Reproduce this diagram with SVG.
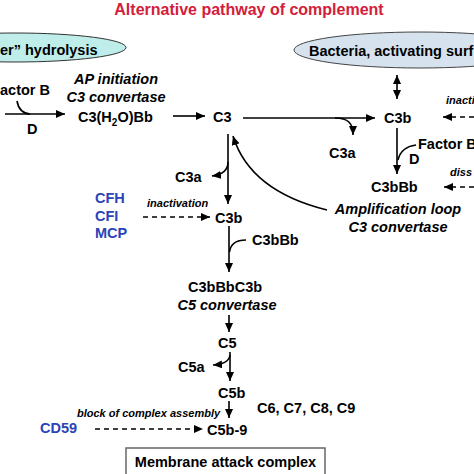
<svg xmlns="http://www.w3.org/2000/svg" width="474" height="474" viewBox="0 0 474 474">
<defs>
<marker id="ah" markerUnits="userSpaceOnUse" markerWidth="9" markerHeight="8" refX="9" refY="4" orient="auto">
<path d="M0,0 L9,4 L0,8 z" fill="#000"/>
</marker>
<marker id="ahs" markerUnits="userSpaceOnUse" markerWidth="9" markerHeight="8" refX="0" refY="4" orient="auto">
<path d="M9,0 L0,4 L9,8 z" fill="#000"/>
</marker>
<style>
text{font-family:"Liberation Sans",Arial,sans-serif;font-weight:bold;font-size:14.5px;fill:#000}
.it{font-style:italic}
.sm{font-size:11px;font-style:italic}
.blue{fill:#2b43b8}
.title{fill:#d3203a;font-size:16px}
.ln{fill:none;stroke:#000;stroke-width:1.6}
.dash{stroke-dasharray:5,4}
</style>
</defs>
<rect width="474" height="474" fill="#fff"/>
<text class="title" x="249" y="15" text-anchor="middle">Alternative pathway of complement</text>

<g id="tickover">
<ellipse cx="15" cy="47.5" rx="111" ry="14.5" fill="#bfeeea" stroke="#333" stroke-width="1"/>
<text x="0" y="55">er” hydrolysis</text>
</g>
<g id="bacteria">
<ellipse cx="420" cy="50" rx="126" ry="18" fill="#d6e3ef" stroke="#444" stroke-width="1"/>
<text x="309" y="56">Bacteria, activating surf</text>
</g>

<g id="connectors">
<path class="ln" d="M5,114 L65,114" marker-end="url(#ah)"/>
<path class="ln" d="M17,101 Q19,113 30,114"/>
<path class="ln" d="M173,116 L205,116" marker-end="url(#ah)"/>
<path class="ln" d="M243,118 L375,118" marker-end="url(#ah)"/>
<path class="ln" d="M335,118 C348,118 353,123 353,135" marker-end="url(#ah)"/>
<path class="ln" d="M397,75 L397,99" marker-start="url(#ahs)" marker-end="url(#ah)"/>
<path class="ln" d="M228,134 L228,204" marker-end="url(#ah)"/>
<path class="ln" d="M228,162 Q228,174 212,176" marker-end="url(#ah)"/>
<path class="ln" d="M327,210 Q250,191 233,136" marker-end="url(#ah)"/>
<path class="ln" d="M397,128 L397,174" marker-end="url(#ah)"/>
<path class="ln" d="M416,145 Q401,147 398,160"/>
<path class="ln dash" d="M474,117 L443,117" marker-end="url(#ah)"/>
<path class="ln dash" d="M474,187 L444,187" marker-end="url(#ah)"/>
<path class="ln dash" d="M143,217 L210,217" marker-end="url(#ah)"/>
<path class="ln" d="M229,226 L229,272" marker-end="url(#ah)"/>
<path class="ln" d="M246,240 Q231,240 229.5,252"/>
<path class="ln" d="M229,315 L229,332" marker-end="url(#ah)"/>
<path class="ln" d="M230,352 L230,381" marker-end="url(#ah)"/>
<path class="ln" d="M230,355 Q229,364 213,365" marker-end="url(#ah)"/>
<path class="ln" d="M229,401 L229,418" marker-end="url(#ah)"/>
<path class="ln dash" d="M95,429 L203,429" marker-end="url(#ah)"/>
</g>

<g id="factorB-left"><text x="0" y="95">actor B</text><text x="27" y="134">D</text></g>
<g id="ap-initiation"><text class="it" x="116" y="84" text-anchor="middle">AP initiation</text><text class="it" x="116" y="102" text-anchor="middle">C3 convertase</text></g>
<g id="c3h2obb"><text x="78" y="122">C3(H<tspan font-size="10" dy="4">2</tspan><tspan dy="-4">O)Bb</tspan></text></g>
<g id="c3"><text x="213" y="122">C3</text></g>
<g id="c3b-right"><text x="384" y="123">C3b</text></g>
<g id="c3a-right"><text x="329" y="158">C3a</text></g>
<g id="c3a-left"><text x="175" y="182">C3a</text></g>
<g id="regulators"><text class="blue" x="95" y="203">CFH</text><text class="blue" x="95" y="221">CFI</text><text class="blue" x="95" y="238">MCP</text></g>
<g id="inactivation-left"><text class="sm" x="147" y="207">inactivation</text></g>
<g id="c3b-center"><text x="215" y="223">C3b</text></g>
<g id="c3bbb-center"><text x="252" y="245">C3bBb</text></g>
<g id="amplification"><text class="it" x="398" y="214" text-anchor="middle">Amplification loop</text><text class="it" x="398" y="232" text-anchor="middle">C3 convertase</text></g>
<g id="factorB-right"><text x="418" y="149">Factor B</text><text x="409" y="164">D</text></g>
<g id="c3bbb-right"><text x="371" y="192">C3bBb</text></g>
<g id="inact-right"><text class="sm" x="446" y="104">inacti</text></g>
<g id="diss-right"><text class="sm" x="450" y="176">diss</text></g>
<g id="c3bbbc3b"><text x="188" y="292">C3bBbC3b</text><text class="it" x="227" y="310" text-anchor="middle">C5 convertase</text></g>
<g id="c5"><text x="218" y="348">C5</text></g>
<g id="c5a"><text x="178" y="372">C5a</text></g>
<g id="c5b"><text x="218" y="398">C5b</text></g>
<g id="block"><text class="sm" x="77" y="417">block of complex assembly</text></g>
<g id="c6c9"><text x="257" y="413">C6, C7, C8, C9</text></g>
<g id="cd59"><text class="blue" x="40" y="433">CD59</text></g>
<g id="c5b9"><text x="207" y="435">C5b-9</text></g>
<g id="mac">
<rect x="126" y="448" width="199" height="32" fill="#fff" stroke="#666" stroke-width="1.5"/>
<text x="225.5" y="467" text-anchor="middle">Membrane attack complex</text>
</g>
</svg>
